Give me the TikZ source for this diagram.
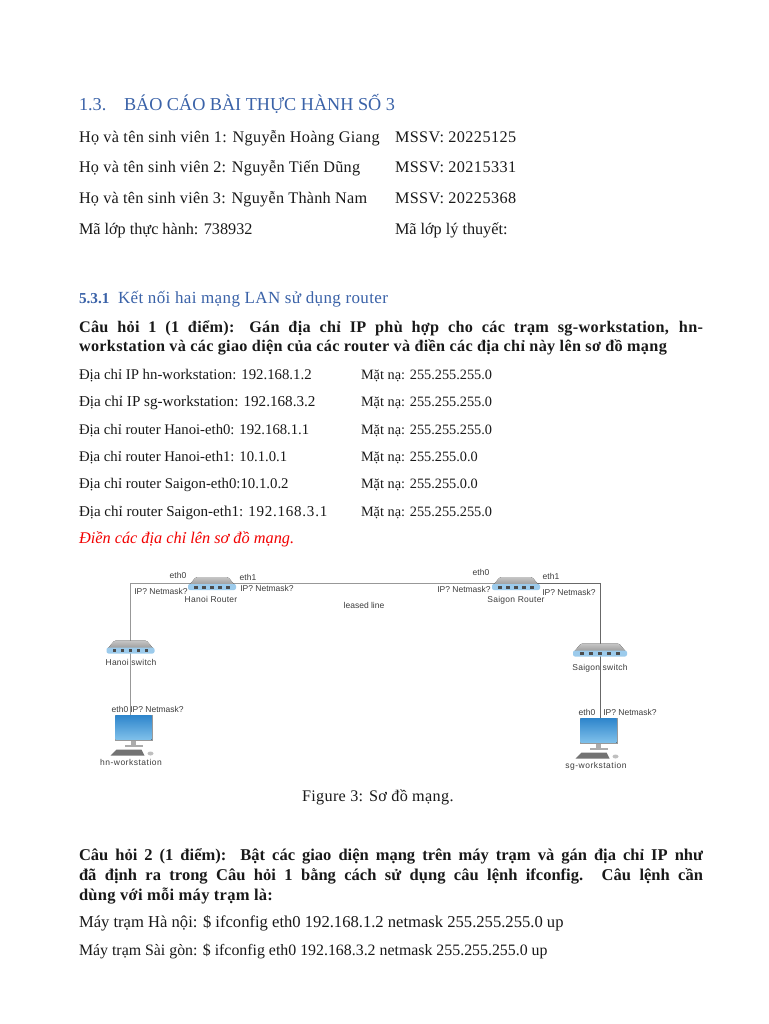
\documentclass[tikz,border=0pt]{standalone}
\usepackage{fontspec}
\setmainfont{Liberation Serif}
\newfontfamily\dgfont{Liberation Sans}
\usetikzlibrary{calc}
\definecolor{headblue}{HTML}{3A62A8}
\definecolor{wirec}{HTML}{989898}
\definecolor{wired}{HTML}{686868}
\definecolor{labc}{HTML}{3C3C3C}
\definecolor{screentop}{HTML}{2F86CC}
\definecolor{screenbot}{HTML}{7FC0EA}
\definecolor{portc}{HTML}{9CCBEC}
\newcommand{\ls}[1]{\addfontfeatures{LetterSpace=#1}}
\newcommand{\sz}[1]{\fontsize{#1}{18}\selectfont}
\tikzset{
  x=1pt,y=-1pt,
  txt/.style={anchor=base west,inner sep=0pt,outer sep=0pt,font=\fontsize{16.2}{18}\selectfont,text=black!90},
  bld/.style={txt,font=\fontsize{16.2}{18}\selectfont\bfseries},
  head/.style={txt,text=headblue},
  dg/.style={anchor=base,inner sep=0pt,outer sep=0pt,font=\dgfont\fontsize{8.5}{9}\selectfont,text=labc},
  wire/.style={draw=wirec,line width=1.1pt},
  wiredark/.style={draw=wired,line width=0.9pt},
  devbox/.style={inner sep=0pt,outer sep=0pt,minimum width=48pt,minimum height=14pt},
  wsbox/.style={inner sep=0pt,outer sep=0pt,minimum width=37pt,minimum height=25pt},
}
% #1 centre, #2 half width
\newcommand{\hubshape}[2]{%
  \fill[top color=gray!45,bottom color=gray!85,rounded corners=1.5pt] ($(#1)+(-#2,3)$) -- ($(#1)+(-#2+8,-6.5)$) -- ($(#1)+(#2-8,-6.5)$) -- ($(#1)+(#2,3)$) -- cycle;
  \fill[portc,rounded corners=2pt] ($(#1)+(-#2,0.5)$) rectangle ($(#1)+(#2,6.5)$);
  \foreach \k in {-0.66,-0.33,0,0.33,0.66}{\fill[black!70] ($(#1)+(\k*#2-1.7,2)$) rectangle ($(#1)+(\k*#2+1.7,5)$);}
}
\newcommand{\wsshape}[1]{%
  \fill[black!40] ($(#1)+(-19,-13)$) rectangle ($(#1)+(19,13)$);
  \fill[top color=screentop,bottom color=screenbot] ($(#1)+(-18,-12)$) rectangle ($(#1)+(18,12)$);
  \fill[gray!65] ($(#1)+(-2.5,13)$) rectangle ($(#1)+(2.5,18)$);
  \fill[gray!65] ($(#1)+(-9,17.5)$) rectangle ($(#1)+(9,19.5)$);
  \fill[black!55] ($(#1)+(-23,28)$) -- ($(#1)+(-17,22)$) -- ($(#1)+(8,22)$) -- ($(#1)+(11,28)$) -- cycle;
  \fill[gray!50] ($(#1)+(17,26)$) ellipse (3 and 2);
}
\begin{document}
\begin{tikzpicture}
\useasboundingbox (0,0) rectangle (768,1024);
\fill[white] (0,0) rectangle (768,1024);
\node[head,font=\sz{18.2}] (t1) at (79,111) {1.3.};
\node[head,font=\sz{18.2}] (t2) at (124,111) {BÁO CÁO BÀI THỰC HÀNH SỐ 3};
\node[txt] (a1) at (79,143) {\ls{2}Họ và tên sinh viên 1: Nguyễn Hoàng Giang};
\node[txt] (a2) at (395,143) {\ls{2.5}MSSV: 20225125};
\node[txt] (b1) at (79,173) {\ls{1.75}Họ và tên sinh viên 2: Nguyễn Tiến Dũng};
\node[txt] (b2) at (395,173) {\ls{2.5}MSSV: 20215331};
\node[txt] (c1) at (79,204) {\ls{1.6}Họ và tên sinh viên 3: Nguyễn Thành Nam};
\node[txt] (c2) at (395,204) {\ls{2.5}MSSV: 20225368};
\node[txt] (d1) at (79,234) {Mã lớp thực hành: 738932};
\node[txt] (d2) at (395,234) {Mã lớp lý thuyết:};
\node[head,font=\sz{15.2}\bfseries] (h1) at (79,303) {5.3.1};
\node[head,font=\sz{17}] (h2) at (118,303) {\ls{2.2}Kết nối hai mạng LAN sử dụng router};
\node[bld] (q1) at (79,332) {\makebox[624pt][s]{\ls{2}Câu hỏi 1 (1 điểm): Gán địa chỉ IP phù hợp cho các trạm sg-workstation, hn-}};
\node[bld] (q2) at (79,351) {\ls{2}workstation và các giao diện của các router và điền các địa chỉ này lên sơ đồ mạng};
\node[txt,font=\sz{14.8}] (r1) at (79,379) {Địa chỉ IP hn-workstation: 192.168.1.2};
\node[txt,font=\sz{14.3}] (m1) at (361,379) {Mặt nạ: 255.255.255.0};
\node[txt,font=\sz{15.15}] (r2) at (79,406) {Địa chỉ IP sg-workstation: 192.168.3.2};
\node[txt,font=\sz{14.3}] (m2) at (361,406) {Mặt nạ: 255.255.255.0};
\node[txt,font=\sz{14.7}] (r3) at (79,434) {Địa chỉ router Hanoi-eth0: 192.168.1.1};
\node[txt,font=\sz{14.3}] (m3) at (361,434) {Mặt nạ: 255.255.255.0};
\node[txt,font=\sz{14.7}] (r4) at (79,461) {Địa chỉ router Hanoi-eth1: 10.1.0.1};
\node[txt,font=\sz{14.3}] (m4) at (361,461) {Mặt nạ: 255.255.0.0};
\node[txt,font=\sz{14.8}] (r5) at (79,488) {Địa chỉ router Saigon-eth0:10.1.0.2};
\node[txt,font=\sz{14.3}] (m5) at (361,488) {Mặt nạ: 255.255.0.0};
\node[txt,font=\sz{15.05}] (r6) at (79,516) {Địa chỉ router Saigon-eth1: \ls{5}192.168.3.1};
\node[txt,font=\sz{14.3}] (m6) at (361,516) {Mặt nạ: 255.255.255.0};
\node[txt,text=red!95!black,font=\sz{16.3}\itshape] (fill) at (79,543) {Điền các địa chỉ lên sơ đồ mạng.};
% devices
\node[devbox] (hr) at (212,583.5) {};
\node[devbox] (sr) at (516,583.5) {};
\node[devbox] (hs) at (130.5,647) {};
\node[devbox] (ss) at (600,650) {};
\node[wsbox] (hw) at (133.5,727.5) {};
\node[wsbox] (sw) at (598.5,730.5) {};
\coordinate (hc) at (130.5,583.5);
\coordinate (sc) at (600,583.5);
\coordinate (hwt) at (130.5,715);
\coordinate (swt) at (600,718);
\draw[wire] (hr.center) -- (hc) -- (hs.center) -- (hwt);
\draw[wire] (hr.center) -- (sr.center);
\draw[wiredark] (sr.center) -- (sc) -- (ss.center) -- (swt);
\hubshape{hr}{24}\hubshape{sr}{24}\hubshape{hs}{24}\hubshape{ss}{27}
\wsshape{hw}\wsshape{sw}
% diagram labels
\node[dg] (l1) at (178,578) {eth0};
\node[dg] (l2) at (248,580) {eth1};
\node[dg] (l3) at (161,594) {IP? Netmask?};
\node[dg] (l4) at (267,591) {IP? Netmask?};
\node[dg] (l5) at (211,602) {\ls{3}Hanoi Router};
\node[dg] (l6) at (131,665) {\ls{3}Hanoi switch};
\node[dg] (l7) at (120,712) {eth0};
\node[dg] (l8) at (157,712) {IP? Netmask?};
\node[dg] (l9) at (131,765) {\ls{6}hn-workstation};
\node[dg] (l10) at (364,608) {leased line};
\node[dg] (l11) at (481,575) {eth0};
\node[dg] (l12) at (551,579) {eth1};
\node[dg] (l13) at (464,592) {IP? Netmask?};
\node[dg] (l14) at (569,595) {IP? Netmask?};
\node[dg] (l15) at (516,602) {\ls{3}Saigon Router};
\node[dg] (l16) at (600,670) {\ls{3}Saigon switch};
\node[dg] (l17) at (587,715) {eth0};
\node[dg] (l18) at (630,715) {IP? Netmask?};
\node[dg] (l19) at (596,768) {\ls{6}sg-workstation};
\node[txt] (cap) at (302,801) {\ls{2}Figure 3: Sơ đồ mạng.};
\node[bld,font=\sz{16.5}\bfseries] (q3) at (79,860) {\makebox[624pt][s]{Câu hỏi 2 (1 điểm):\ \ Bật các giao diện mạng trên máy trạm và gán địa chỉ IP như}};
\node[bld,font=\sz{16.5}\bfseries] (q4) at (79,880) {\makebox[624pt][s]{đã định ra trong Câu hỏi 1 bằng cách sử dụng câu lệnh ifconfig. Câu lệnh cần}};
\node[bld,font=\sz{16.5}\bfseries] (q5) at (79,900) {\ls{1.8}dùng với mỗi máy trạm là:};
\node[txt,font=\sz{16.6}] (u1) at (79,927) {Máy trạm Hà nội: \$ ifconfig eth0 192.168.1.2 netmask 255.255.255.0 up};
\node[txt,font=\sz{15.87}] (u2) at (79,955) {Máy trạm Sài gòn: \$ ifconfig eth0 192.168.3.2 netmask 255.255.255.0 up};
\end{tikzpicture}
\end{document}
